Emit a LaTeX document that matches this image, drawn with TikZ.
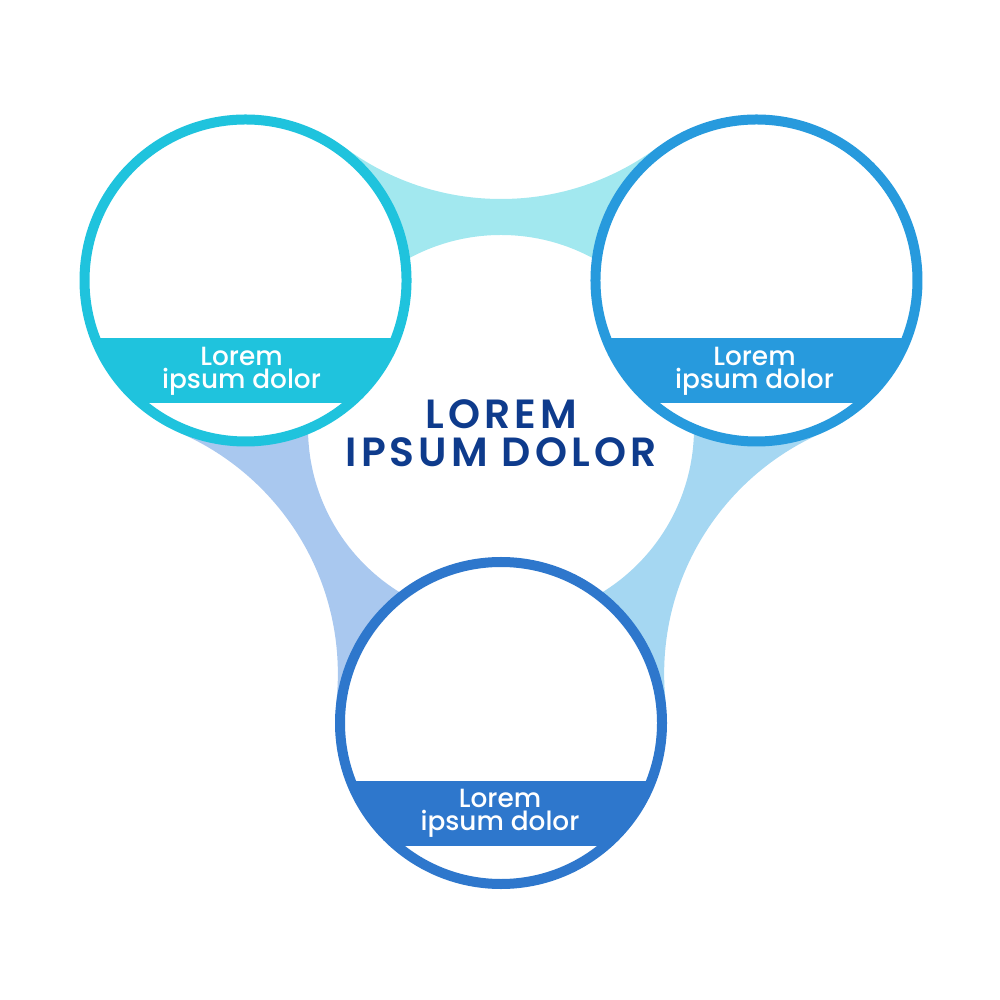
\documentclass[tikz,border=0pt]{standalone}
\usepackage{fontspec}
\setmainfont{Poppins}
\newfontfamily\medfont{Poppins Medium}
\newfontfamily\semifont{Poppins SemiBold}[LetterSpace=10]
\usepackage{xcolor}
\definecolor{ring-cyan}{RGB}{31,195,221}
\definecolor{ring-blue}{RGB}{39,154,221}
\definecolor{ring-deep}{RGB}{46,119,204}
\definecolor{band-cyan}{RGB}{162,232,239}
\definecolor{band-pale}{RGB}{169,200,239}
\definecolor{band-sky}{RGB}{165,215,242}
\definecolor{title-navy}{RGB}{14,59,140}
\usepackage{tikz}
\usetikzlibrary{calc}

\begin{document}
\begin{tikzpicture}[
	ring/.style={line width=1mm},
	lbl/.style={text=white,align=center,font=\medfont\fontsize{7.5}{6.6}\selectfont},
	ttl/.style={text=title-navy,align=center,font=\semifont\fontsize{11.6}{10.8}\selectfont}]
	\useasboundingbox (-5.01,-5.72) rectangle (4.99,4.28);
	
	\foreach \a/\z in {150/tl,30/tr,270/bt}{
		\coordinate (\z) at (\a:2.95);
	}
	\foreach \a/\z in {90/gt,210/gl,330/gr}{
		\coordinate (\z) at (\a:4.915);
	}
	
	% bands between the circles
	\foreach \p/\q/\g/\c in {tl/tr/gt/band-cyan,tl/bt/gl/band-pale,tr/bt/gr/band-sky}{
		\begin{scope}
			\clip (\p) -- (\q) -- (\g) -- cycle;
			\fill[\c,even odd rule] (-9,-9) rectangle (9,9)
				(\g) circle (2.625) (0,0) circle (1.93);
		\end{scope}
	}
	
	\foreach \z/\c in {tl/ring-cyan,tr/ring-blue,bt/ring-deep}{
		\begin{scope}[shift={(\z)}]
			\clip (0,0) circle (1.61);
			\fill[white] (0,0) circle (1.61);
			\fill[\c] (-2,-.58) rectangle (2,-1.23);
		\end{scope}
		\draw[ring,\c] (\z) circle (1.61);
	}
	
	\path 
		($(tl)+(-.04,-.905)$) node[lbl] (ltl) {Lorem\\ipsum dolor}
		($(tr)+(-.02,-.905)$) node[lbl] (ltr) {Lorem\\ipsum dolor}
		($(bt)+(-.01,-.905)$) node[lbl] (lbt) {Lorem\\ipsum dolor}
		(0,-.05)              node[ttl] (ttl) {LOREM\\IPSUM DOLOR};
\end{tikzpicture}
\end{document}
